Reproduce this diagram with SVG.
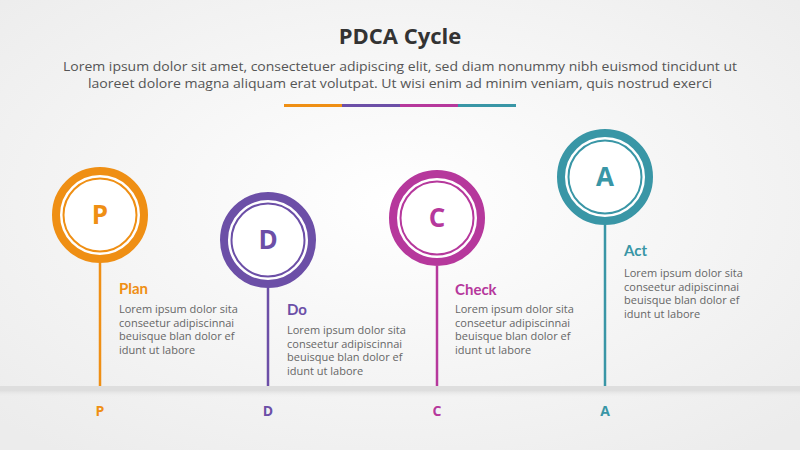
<svg xmlns="http://www.w3.org/2000/svg" width="800" height="450" viewBox="0 0 800 450">
<defs>
<radialGradient id="bg" cx="50%" cy="45%" r="70%">
<stop offset="0" stop-color="#ffffff"/>
<stop offset="1" stop-color="#ececec"/>
</radialGradient>
<linearGradient id="shadow" x1="0" y1="0" x2="0" y2="1">
<stop offset="0" stop-color="#dcdcdc"/>
<stop offset="1" stop-color="#f2f2f2" stop-opacity="0"/>
</linearGradient>
</defs>
<style>
.title{font-family:"Open Sans","Liberation Sans",sans-serif;font-weight:700;font-size:22px;fill:#333;text-anchor:middle}
.sub{font-family:"Open Sans","Liberation Sans",sans-serif;font-size:12.5px;fill:#555;text-anchor:middle}
.ring{fill:#fff;stroke-width:8}
.inner{fill:#fff;stroke-width:2}
.letter{font-family:"Open Sans","Liberation Sans",sans-serif;font-weight:700;font-size:26px;text-anchor:middle}
.head{font-family:Lato,"Liberation Sans",sans-serif;font-weight:700;font-size:15px}
.body{font-family:"Open Sans","Liberation Sans",sans-serif;font-size:11px;fill:#666}
.foot{font-family:"Open Sans","Liberation Sans",sans-serif;font-weight:700;font-size:14px;text-anchor:middle}
.stem{stroke-width:2.5}
.o{stroke:#ef8f14;fill:#ef8f14}
.p{stroke:#6c4fa7;fill:#6c4fa7}
.m{stroke:#b6389c;fill:#b6389c}
.t{stroke:#3996a6;fill:#3996a6}
.ns{stroke:none}
.wf{fill:#fff}
</style>
<rect width="800" height="450" fill="url(#bg)"/>
<rect x="0" y="386" width="800" height="4" fill="#dedede"/>
<rect x="0" y="390" width="800" height="8" fill="url(#shadow)"/>
<text class="title" x="400" y="44">PDCA Cycle</text>
<text class="sub" x="400" y="71" textLength="674" lengthAdjust="spacingAndGlyphs">Lorem ipsum dolor sit amet, consectetuer adipiscing elit, sed diam nonummy nibh euismod tincidunt ut</text>
<text class="sub" x="400" y="88" textLength="624" lengthAdjust="spacingAndGlyphs">laoreet dolore magna aliquam erat volutpat. Ut wisi enim ad minim veniam, quis nostrud exerci</text>
<g id="colorbar">
<rect x="284" y="104" width="58" height="3" fill="#ef8f14"/>
<rect x="342" y="104" width="58" height="3" fill="#6c4fa7"/>
<rect x="400" y="104" width="58" height="3" fill="#b6389c"/>
<rect x="458" y="104" width="58" height="3" fill="#3996a6"/>
</g>
<g id="connectors">
<line class="stem o" x1="100" y1="263" x2="100" y2="386"/>
<line class="stem p" x1="268" y1="288" x2="268" y2="386"/>
<line class="stem m" x1="437" y1="266" x2="437" y2="386"/>
<line class="stem t" x1="605" y1="225" x2="605" y2="386"/>
</g>
<g id="node-plan">
<circle class="ring o wf" cx="100" cy="215" r="44" style="fill:#fff"/>
<circle class="inner o" cx="100" cy="215" r="36.5" style="fill:#fff"/>
<text class="letter o ns" x="100" y="224">P</text>
<text class="head o ns" x="119" y="294">Plan</text>
<text class="body" x="119" y="313">Lorem ipsum dolor sita</text>
<text class="body" x="119" y="326.5">conseetur adipiscinnai</text>
<text class="body" x="119" y="340">beuisque blan dolor ef</text>
<text class="body" x="119" y="353.5">idunt ut labore</text>
</g>
<g id="node-do">
<circle class="ring p" cx="268" cy="240" r="44" style="fill:#fff"/>
<circle class="inner p" cx="268" cy="240" r="36.5" style="fill:#fff"/>
<text class="letter p ns" x="268" y="249">D</text>
<text class="head p ns" x="287" y="315">Do</text>
<text class="body" x="287" y="334">Lorem ipsum dolor sita</text>
<text class="body" x="287" y="347.5">conseetur adipiscinnai</text>
<text class="body" x="287" y="361">beuisque blan dolor ef</text>
<text class="body" x="287" y="374.5">idunt ut labore</text>
</g>
<g id="node-check">
<circle class="ring m" cx="437" cy="218" r="44" style="fill:#fff"/>
<circle class="inner m" cx="437" cy="218" r="36.5" style="fill:#fff"/>
<text class="letter m ns" x="437" y="227">C</text>
<text class="head m ns" x="455" y="295">Check</text>
<text class="body" x="455" y="313">Lorem ipsum dolor sita</text>
<text class="body" x="455" y="326.5">conseetur adipiscinnai</text>
<text class="body" x="455" y="340">beuisque blan dolor ef</text>
<text class="body" x="455" y="353.5">idunt ut labore</text>
</g>
<g id="node-act">
<circle class="ring t" cx="605" cy="177" r="44" style="fill:#fff"/>
<circle class="inner t" cx="605" cy="177" r="36.5" style="fill:#fff"/>
<text class="letter t ns" x="605" y="186">A</text>
<text class="head t ns" x="624" y="256">Act</text>
<text class="body" x="624" y="277">Lorem ipsum dolor sita</text>
<text class="body" x="624" y="290.5">conseetur adipiscinnai</text>
<text class="body" x="624" y="304">beuisque blan dolor ef</text>
<text class="body" x="624" y="317.5">idunt ut labore</text>
</g>
<g id="footer">
<text class="foot o ns" x="100" y="416">P</text>
<text class="foot p ns" x="268" y="416">D</text>
<text class="foot m ns" x="437" y="416">C</text>
<text class="foot t ns" x="605" y="416">A</text>
</g>
</svg>
